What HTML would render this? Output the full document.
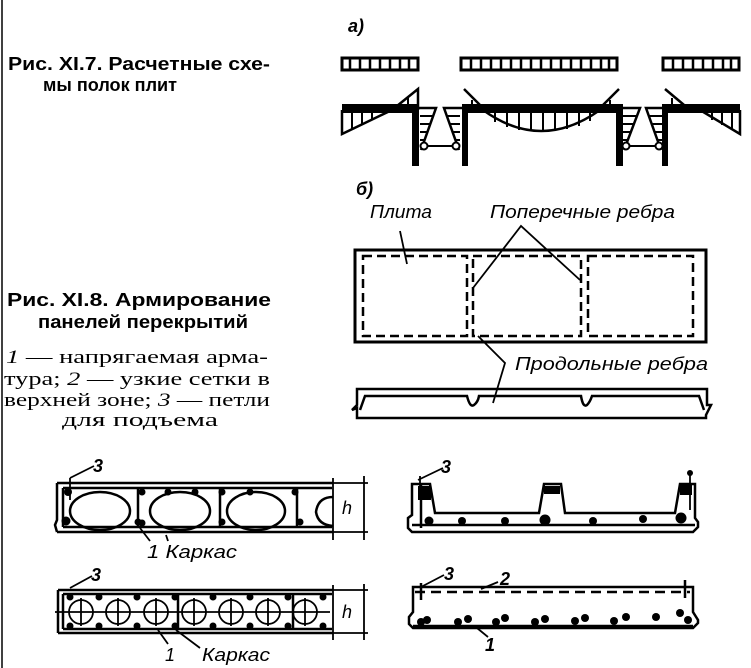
<!DOCTYPE html>
<html><head><meta charset="utf-8"><style>
html,body{margin:0;padding:0;background:#fff;}
svg{display:block}
.cap{font-family:"Liberation Sans",sans-serif;font-weight:bold;font-size:18px;}
.bd{font-family:"Liberation Serif",serif;font-size:19px;}
.it{font-family:"Liberation Sans",sans-serif;font-style:italic;font-size:18px;}
</style></head><body>
<svg width="751" height="668" viewBox="0 0 751 668" xmlns="http://www.w3.org/2000/svg">
<line x1="2" y1="0" x2="2" y2="668" stroke="#000" stroke-width="1.5"/>
<!-- captions -->
<text class="cap" x="8" y="70" textLength="262" lengthAdjust="spacingAndGlyphs">Рис. XI.7. Расчетные схе-</text>
<text class="cap" x="43" y="91" textLength="134" lengthAdjust="spacingAndGlyphs">мы полок плит</text>
<text class="cap" x="7" y="306" textLength="264" lengthAdjust="spacingAndGlyphs">Рис.  XI.8.  Армирование</text>
<text class="cap" x="38" y="328" textLength="210" lengthAdjust="spacingAndGlyphs">панелей перекрытий</text>
<text class="bd" x="6" y="363" textLength="262" lengthAdjust="spacingAndGlyphs"><tspan font-style="italic">1</tspan> — напрягаемая    арма-</text>
<text class="bd" x="4" y="385" textLength="266" lengthAdjust="spacingAndGlyphs">тура;  <tspan font-style="italic">2</tspan> — узкие  сетки  в</text>
<text class="bd" x="4" y="406" textLength="266" lengthAdjust="spacingAndGlyphs">верхней зоне;  <tspan font-style="italic">3</tspan> — петли</text>
<text class="bd" x="62" y="426" textLength="156" lengthAdjust="spacingAndGlyphs">для подъема</text>

<!-- a) -->
<text class="it" x="348" y="32" font-size="24" font-weight="bold">а)</text>
<g fill="none" stroke="#000" stroke-width="3">
<rect x="342" y="58" width="76" height="12"/>
<rect x="461" y="58" width="156" height="12"/>
<rect x="663" y="58" width="76" height="12"/>
</g>
<g stroke="#000" stroke-width="2.5">
<path d="M350 58v12M360 58v12M370 58v12M380 58v12M390 58v12M400 58v12M409 58v12"/>
<path d="M471 58v12M481 58v12M491 58v12M501 58v12M511 58v12M521 58v12M531 58v12M541 58v12M551 58v12M561 58v12M571 58v12M581 58v12M591 58v12M601 58v12M609 58v12"/>
<path d="M673 58v12M683 58v12M693 58v12M703 58v12M713 58v12M723 58v12M731 58v12"/>
</g>
<g fill="none" stroke="#000" stroke-width="2.5">
<path d="M342 110 V134 L392 110"/>
<path d="M392 110 L418 89 V110"/>
<path d="M419 108 H436 L421 150"/>
<path d="M462 108 H444 L459 150"/>
<path d="M464 89 L485 110"/>
<path d="M619 89 L598 110"/>
<path d="M483 110 Q541 152 600 110"/>
<path d="M622 108 H640 L624 150"/>
<path d="M664 108 H646 L661 150"/>
<path d="M665 89 L690 110"/>
<path d="M700 110 L740 134 V110"/>
</g>
<g stroke="#000" stroke-width="2">
<path d="M352 112v17M362 112v13M372 112v8M400 110v-6M408 110v-13"/>
<path d="M420 116h13M420 124h10M420 132h7M420 140h4M460 116h-13M460 124h-10M460 132h-7M460 140h-4"/>
<path d="M472 110v-10M610 110v-10"/>
<path d="M495 112v10M507 112v15M519 112v18M531 112v19M543 112v19M555 112v19M567 112v17M579 112v14M590 112v9"/>
<path d="M623 116h13M623 124h10M623 132h7M623 140h4M662 116h-13M662 124h-10M662 132h-7M662 140h-4"/>
<path d="M672 110v-12M680 110v-6M712 112v8M722 112v13M732 112v18"/>
</g>
<g fill="#000">
<rect x="342" y="104" width="77" height="9"/>
<rect x="412" y="104" width="7" height="62"/>
<rect x="462" y="104" width="158" height="9"/>
<rect x="462" y="104" width="6" height="62"/>
<rect x="616" y="104" width="7" height="62"/>
<rect x="662" y="104" width="78" height="9"/>
<rect x="662" y="104" width="6" height="62"/>
</g>
<g stroke="#000" stroke-width="2" fill="#fff">
<line x1="424" y1="146" x2="456" y2="146"/>
<line x1="626" y1="146" x2="659" y2="146"/>
<circle cx="424" cy="146" r="3.5"/><circle cx="456" cy="146" r="3.5"/>
<circle cx="626" cy="146" r="3.5"/><circle cx="659" cy="146" r="3.5"/>
</g>

<!-- б) -->
<text class="it" x="356" y="195" font-size="22" font-weight="bold">б)</text>
<text class="it" x="370" y="218" textLength="62" lengthAdjust="spacingAndGlyphs">Плита</text>
<text class="it" x="490" y="218" textLength="185" lengthAdjust="spacingAndGlyphs">Поперечные ребра</text>
<rect x="355" y="250" width="351" height="92" fill="none" stroke="#000" stroke-width="3"/>
<g fill="none" stroke="#000" stroke-width="2.5" stroke-dasharray="9,5">
<rect x="363" y="256" width="104" height="80"/>
<rect x="473" y="256" width="108" height="80"/>
<rect x="588" y="256" width="105" height="80"/>
</g>
<g stroke="#000" stroke-width="1.8" fill="none">
<path d="M400 231 L407 264"/>
<path d="M473 288 L521 226 L580 280"/>
<path d="M478 336 L505 363 L493 403"/>
</g>
<text class="it" x="515" y="370" textLength="193" lengthAdjust="spacingAndGlyphs">Продольные ребра</text>
<g fill="none" stroke="#000" stroke-width="2.5">
<path d="M357 389 H707 V405 H711 L706 415 V418 H357 V408 L352 410 L357 405 Z"/>
<path d="M360 410 L365 396 H467 Q470 408 474 405 Q478 402 479 396 H581 Q583 408 587 405 Q590 402 592 396 H699 L704 410"/>
</g>

<!-- lower left panel 1 -->
<g fill="none" stroke="#000" stroke-width="2.5">
<path d="M57 483 H333 M57 532 H333 M57 483 V520 L55 525 L57 532"/>
<path d="M63 488 H332 M63 527 H332 M63 488 V527"/>
<ellipse cx="100" cy="511" rx="30" ry="19"/>
<ellipse cx="180" cy="511" rx="30" ry="19"/>
<ellipse cx="256" cy="511" rx="29" ry="19"/>
<path d="M333 497 Q318 497 316 512 Q318 525 333 526"/>
<path d="M138 488 V527 M220 488 V527 M297 488 V527"/>
</g>
<g fill="none" stroke="#000" stroke-width="1.8">
<path d="M333 478 V540 M333 483 H368 M333 532 H368 M364 476 V540"/>
</g>
<g fill="#000">
<circle cx="68" cy="492" r="4"/><circle cx="66" cy="521" r="4.5"/>
<circle cx="142" cy="492" r="3.5"/><circle cx="168" cy="492" r="3.5"/><circle cx="195" cy="492" r="3.5"/><circle cx="222" cy="492" r="3.5"/><circle cx="250" cy="492" r="3.5"/><circle cx="295" cy="492" r="3.5"/>
<circle cx="138" cy="522" r="3.5"/><circle cx="142" cy="523" r="3.5"/><circle cx="222" cy="522" r="3.5"/><circle cx="300" cy="522" r="3.5"/>
</g>
<text class="it" x="342" y="514" font-size="16">h</text>
<g stroke="#000" stroke-width="1.8"><path d="M70 478 L94 466 M70 478 V500"/><path d="M140 528 L150 541 M166 535 L168 541"/></g>
<text class="it" x="93" y="472" font-size="16" font-weight="bold">3</text>
<text class="it" x="147" y="558" textLength="90" lengthAdjust="spacingAndGlyphs">1 Каркас</text>

<!-- lower left panel 2 -->
<g fill="none" stroke="#000" stroke-width="2.5">
<path d="M58 590 H333 M58 633 H333 M58 590 V633 M63 594 H332 M63 629 H332 M63 594 V629"/>
<path d="M178 594 V629 M293 594 V629"/>
</g>
<g fill="none" stroke="#000" stroke-width="1.8">
<path d="M333 585 V640 M333 590 H368 M333 633 H368 M364 584 V640"/>
<circle cx="81" cy="612" r="12"/><circle cx="118" cy="612" r="12"/><circle cx="156" cy="612" r="12"/><circle cx="194" cy="612" r="12"/><circle cx="231" cy="612" r="12"/><circle cx="268" cy="612" r="12"/><circle cx="305" cy="612" r="12"/>
<path d="M55 612 H330 M81 598 V626 M118 598 V626 M156 598 V626 M194 598 V626 M231 598 V626 M268 598 V626 M305 598 V626"/>
</g>
<g fill="#000">
<circle cx="70" cy="597" r="3.5"/><circle cx="99" cy="597" r="3.5"/><circle cx="137" cy="597" r="3.5"/><circle cx="175" cy="597" r="3.5"/><circle cx="213" cy="597" r="3.5"/><circle cx="250" cy="597" r="3.5"/><circle cx="288" cy="597" r="3.5"/><circle cx="323" cy="597" r="3.5"/>
<circle cx="70" cy="626" r="3.5"/><circle cx="99" cy="626" r="3.5"/><circle cx="137" cy="626" r="3.5"/><circle cx="175" cy="626" r="3.5"/><circle cx="213" cy="626" r="3.5"/><circle cx="250" cy="626" r="3.5"/><circle cx="288" cy="626" r="3.5"/><circle cx="323" cy="626" r="3.5"/>
</g>
<text class="it" x="342" y="618" font-size="16">h</text>
<g stroke="#000" stroke-width="1.8"><path d="M70 588 L92 576"/><path d="M158 630 L168 644 M176 630 L200 648"/></g>
<text class="it" x="91" y="581" font-size="16" font-weight="bold">3</text>
<text class="it" x="165" y="661">1</text>
<text class="it" x="202" y="661" textLength="68" lengthAdjust="spacingAndGlyphs">Каркас</text>

<!-- lower right ribbed -->
<g fill="none" stroke="#000" stroke-width="2.5">
<path d="M412 484 H430 L435 513 H539 L544 484 H561 L565 513 H675 L680 484 H695 V518 L698 522 V527 L693 532 H412 L408 528 V518 L412 515 Z"/>
<path d="M412 525 H695"/>
<path d="M421 484 V528"/>
</g>
<g fill="#000">
<rect x="418" y="486" width="13" height="14"/><rect x="544" y="486" width="16" height="8"/><rect x="680" y="485" width="12" height="10"/>
<circle cx="429" cy="521" r="4.5"/><circle cx="462" cy="521" r="4"/><circle cx="505" cy="521" r="4"/><circle cx="545" cy="520" r="5.5"/><circle cx="593" cy="521" r="4"/><circle cx="643" cy="519" r="4"/><circle cx="681" cy="518" r="5.5"/><circle cx="690" cy="473" r="3"/>
</g>
<g stroke="#000" stroke-width="1.8"><path d="M418 480 L443 468 M420 476 V492 M690 473 V510"/></g>
<text class="it" x="441" y="473" font-size="16" font-weight="bold">3</text>

<!-- lower right flat -->
<g fill="none" stroke="#000" stroke-width="2.5">
<path d="M413 587 H693 V612 L698 620 V623 L693 628 H413 L409 624 V617 L413 612 Z"/>
<path d="M413 626 H693"/>
<path d="M415 592 H690" stroke-dasharray="10,6"/>
<path d="M421 583 V600 M685 580 V598"/>
</g>
<g fill="#000">
<circle cx="421" cy="622" r="4"/><circle cx="427" cy="620" r="4"/><circle cx="458" cy="622" r="4"/><circle cx="468" cy="619" r="4"/><circle cx="496" cy="622" r="4"/><circle cx="505" cy="618" r="4"/><circle cx="535" cy="622" r="4"/><circle cx="545" cy="619" r="4"/><circle cx="575" cy="621" r="4"/><circle cx="585" cy="618" r="4"/><circle cx="614" cy="621" r="4"/><circle cx="626" cy="617" r="4"/><circle cx="656" cy="617" r="4"/><circle cx="680" cy="613" r="4"/><circle cx="688" cy="620" r="4"/>
</g>
<g stroke="#000" stroke-width="1.8"><path d="M421 587 L444 575 M481 589 L498 582 M477 628 L488 637"/></g>
<text class="it" x="444" y="580" font-size="16" font-weight="bold">3</text>
<text class="it" x="500" y="585" font-size="16" font-weight="bold">2</text>
<text class="it" x="485" y="651" font-size="16" font-weight="bold">1</text>
</svg>
</body></html>
